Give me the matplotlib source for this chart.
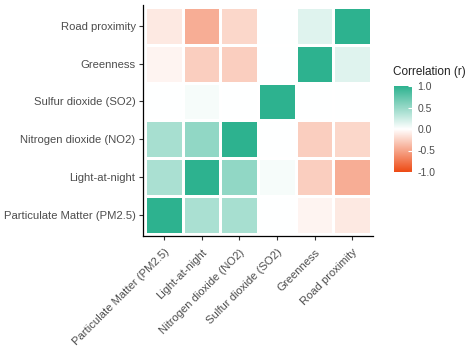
import matplotlib.pyplot as plt
import numpy as np
from matplotlib.colors import LinearSegmentedColormap

plt.rcParams['font.family'] = ['Liberation Sans', 'DejaVu Sans']

labels = ['Particulate Matter (PM2.5)', 'Light-at-night', 'Nitrogen dioxide (NO2)',
          'Sulfur dioxide (SO2)', 'Greenness', 'Road proximity']

# correlation matrix, rows/cols in label order
corr = np.array([
    [1.00, 0.40, 0.42, 0.00, -0.06, -0.12],
    [0.40, 1.00, 0.52, 0.04, -0.27, -0.45],
    [0.42, 0.52, 1.00, 0.00, -0.27, -0.22],
    [0.00, 0.04, 0.00, 1.00, 0.00, 0.00],
    [-0.06, -0.27, -0.27, 0.00, 1.00, 0.15],
    [-0.12, -0.45, -0.22, 0.00, 0.15, 1.00],
])

cmap = LinearSegmentedColormap.from_list('rb', ['#ED4A14', '#FFFFFF', '#2DB28F'])

fig = plt.figure(figsize=(4.74, 3.49), dpi=100)
ax = fig.add_axes([0.302, 0.324, 0.485, 0.662])

n = len(labels)
mesh = ax.pcolormesh(np.arange(n + 1), np.arange(n + 1), corr, cmap=cmap,
                     vmin=-1, vmax=1, edgecolor='white', linewidth=0.8)
ax.set_xlim(-0.05, n + 0.05)
ax.set_ylim(-0.05, n + 0.05)
ax.set_xticks(np.arange(n) + 0.5)
ax.set_yticks(np.arange(n) + 0.5)
ax.set_xticklabels(labels, rotation=45, ha='right', rotation_mode='anchor',
                   fontsize=8.1, color='#4D4D4D')
ax.set_yticklabels(labels, fontsize=8.1, color='#4D4D4D')
ax.tick_params(length=3, width=0.8, color='#333333', pad=2.5)
ax.tick_params(axis='x', pad=5)
for s in ['top', 'right']:
    ax.spines[s].set_visible(False)
for s in ['left', 'bottom']:
    ax.spines[s].set_linewidth(0.9)

fig.text(393 / 474, 1 - 72 / 349, 'Correlation (r)', fontsize=8.5, color='#222222',
         va='center')
cax = fig.add_axes([394 / 474, 1 - 172 / 349, 18 / 474, 86 / 349])
cb = fig.colorbar(mesh, cax=cax, ticks=[-1, -0.5, 0, 0.5, 1])
cb.outline.set_visible(False)
cb.ax.set_yticklabels(['-1.0', '-0.5', '0.0', '0.5', '1.0'], fontsize=7.5, color='#4D4D4D')
cb.ax.tick_params(length=3, color='white', direction='in', pad=4)

fig.savefig('out.png', dpi=100)
